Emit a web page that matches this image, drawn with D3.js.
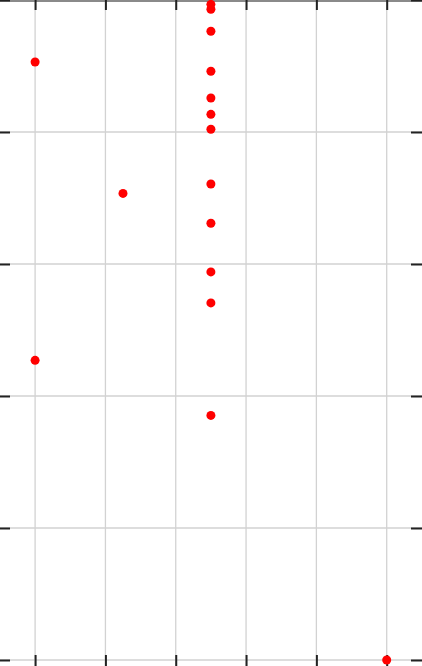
<!DOCTYPE html>
<html>
<head>
<meta charset="utf-8">
<script src="https://cdn.jsdelivr.net/npm/d3@7"></script>
<style>
  html, body { margin: 0; padding: 0; background: #fff; overflow: hidden; }
  svg { display: block; }
</style>
</head>
<body>
<svg id="chart"></svg>
<script>
// ── data ──
const xTicks = [1, 2, 3, 4, 5, 6];
const yTicks = [0, 1, 2, 3, 4, 5];
const xValues = [1, 1, 2.25,
  3.5, 3.5, 3.5, 3.5, 3.5, 3.5, 3.5, 3.5, 3.5, 3.5, 3.5, 3.5,
  6];
const yValues = [4.53, 2.27, 3.535,
  4.967, 4.93, 4.763, 4.46, 4.258, 4.134, 4.021, 3.606, 3.309, 2.94, 2.705, 1.853,
  0];

const W = 422, H = 666;
const svg = d3.select('#chart').attr('width', W).attr('height', H);

const x = d3.scaleLinear().domain([1, 6]).range([35.1, 386.7]);
const y = d3.scaleLinear().domain([0, 5]).range([660, 0]);

// grid
const grid = svg.append('g').attr('stroke', '#d2d2d2').attr('stroke-width', 1.3);
grid.selectAll('.gx').data(xTicks).join('line')
  .attr('x1', d => x(d)).attr('x2', d => x(d))
  .attr('y1', 0).attr('y2', H);
grid.selectAll('.gy').data(yTicks).join('line')
  .attr('x1', 0).attr('x2', W)
  .attr('y1', d => y(d)).attr('y2', d => y(d));

// top box line
svg.append('line')
  .attr('x1', 0).attr('x2', W).attr('y1', 1).attr('y2', 1)
  .attr('stroke', '#8a8a8a').attr('stroke-width', 2);

// inward ticks on all four sides, no labels
function styleAxis(g) {
  g.select('.domain').remove();
  g.selectAll('.tick line').attr('stroke', '#222').attr('stroke-width', 2);
  g.selectAll('.tick text').remove();
}
svg.append('g').attr('transform', 'translate(0,0)')
  .call(d3.axisBottom(x).tickValues(xTicks).tickSize(10)).call(styleAxis);
svg.append('g').attr('transform', `translate(0,${H})`)
  .call(d3.axisTop(x).tickValues(xTicks).tickSize(11)).call(styleAxis);
svg.append('g').attr('transform', 'translate(0,0)')
  .call(d3.axisRight(y).tickValues(yTicks).tickSize(10)).call(styleAxis);
svg.append('g').attr('transform', `translate(${W},0)`)
  .call(d3.axisLeft(y).tickValues(yTicks).tickSize(11)).call(styleAxis);

// points
svg.append('g').selectAll('circle')
  .data(xValues.map((v, i) => ({ x: v, y: yValues[i] })))
  .join('circle')
  .attr('cx', d => x(d.x)).attr('cy', d => y(d.y))
  .attr('r', 4.5)
  .attr('fill', '#ff0000');
</script>
</body>
</html>
